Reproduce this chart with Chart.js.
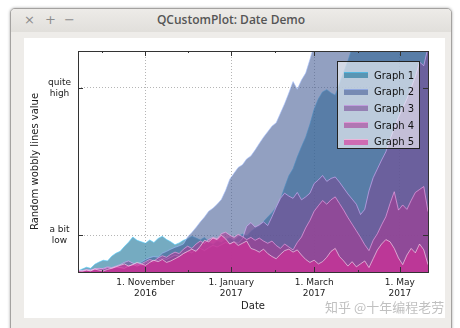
<!DOCTYPE html>
<html>
<head>
<meta charset="utf-8">
<script src="https://cdn.jsdelivr.net/npm/chart.js@4.4.1/dist/chart.umd.min.js"></script>
<style>
  html, body { margin: 0; padding: 0; width: 460px; height: 328px; background: #fff; overflow: hidden; }
  .frame { position: absolute; left: 10px; top: 8px; width: 442px; height: 340px; box-sizing: border-box;
           background: #eeece9; border: 1px solid #a4a2a0; border-radius: 5px 5px 0 0;
           box-shadow: 0 0 3px rgba(0,0,0,0.35); }
  .titlebar { position: absolute; left: 11px; top: 9px; width: 440px; height: 23px;
              background: linear-gradient(#edebe8, #e1dfdb); border-radius: 4px 4px 0 0; }
  .btn { position: absolute; top: 12px; font: 13px "DejaVu Sans", sans-serif; color: #8c8c8c; line-height: 16px; }
  .title { position: absolute; left: 11px; width: 440px; top: 12px; text-align: center;
           font: 600 12px "Open Sans", sans-serif; color: #555; line-height: 16px; }
  .plot { position: absolute; left: 24px; top: 38px; width: 421px; height: 280px; background: #fff; }
  #legend { position: absolute; left: 313px; top: 23px; width: 83px; height: 88px; box-sizing: border-box;
            border: 1px solid #222; background: rgba(255,255,255,0.6); padding: 5px 0 0 6px;
            font: 10px "DejaVu Sans", sans-serif; color: #111; }
  #legend .row { height: 16.6px; display: flex; align-items: center; }
  #legend .sw { width: 24px; height: 5px; margin-right: 6px; }
  .mark { position: absolute; left: 325px; top: 298px; font: 13px "Noto Sans CJK SC", sans-serif;
          line-height: 18px; color: rgba(165,165,165,0.7); white-space: nowrap; }
</style>
</head>
<body>
<div class="frame"></div>
<div class="titlebar"></div>
<span class="btn" style="left:24px">×</span>
<span class="btn" style="left:45px">+</span>
<span class="btn" style="left:64px">−</span>
<div class="title">QCustomPlot: Date Demo</div>
<div class="plot">
  <canvas id="myChart" width="421" height="280"></canvas>
  <div id="legend"></div>
</div>
<div class="mark">知乎 @十年编程老劳</div>
<script>
// days after 14 Sept 2016, one point every 3 days
const days = [];
for (let d = 0; d <= 249; d += 3) days.push(d);

const seriesNames = ['Graph 1', 'Graph 2', 'Graph 3', 'Graph 4', 'Graph 5'];

const graph1 = [0.3, 0.8, 1.3, 1.0, 2.1, 2.7, 3.2, 3.0, 4.3, 5.1,
  5.6, 6.9, 8.1, 9.5, 8.6, 8.2, 7.8, 8.7, 8.0, 9.1,
  9.7, 8.8, 8.2, 7.4, 7.9, 8.6, 9.0, 9.7, 9.2, 8.7,
  9.4, 8.2, 7.5, 8.4, 8.0, 8.8, 9.3, 8.6, 9.6, 10.3,
  9.8, 11.0, 11.9, 12.4, 13.7, 14.9, 16.1, 17.6, 19.7, 23.0,
  26.1, 28.0, 31.2, 34.0, 36.6, 40.1, 44.2, 47.0, 48.9, 49.5,
  48.6, 48.0, 51.1, 54.2, 57.3, 60.8, 63.5, 66.0, 68.7, 71.0,
  73.4, 76.2, 78.8, 81.0, 84.1, 86.9, 89.5, 92.0, 95.2, 98.0,
  100.8, 103.1, 106.4, 109.0];

const graph2 = [0.2, 0.4, 0.3, 0.6, 0.5, 0.8, 0.7, 1.0, 0.9, 1.2,
  1.0, 1.4, 1.5, 1.9, 2.2, 2.7, 3.4, 3.9, 4.2, 4.0,
  5.1, 5.6, 6.2, 6.7, 7.1, 7.6, 9.5, 10.7, 12.1, 13.6,
  14.9, 16.5, 17.3, 18.4, 19.7, 22.1, 25.2, 26.8, 28.4, 29.1,
  30.7, 31.5, 33.1, 34.9, 36.6, 38.1, 39.6, 40.5, 43.1, 45.7,
  48.6, 51.7, 49.6, 52.1, 54.0, 57.7, 61.6, 64.2, 66.0, 68.5,
  70.2, 72.9, 75.0, 77.6, 80.1, 82.4, 85.0, 87.3, 90.1, 92.6,
  95.0, 97.8, 100.2, 103.0, 105.5, 108.4, 111.0, 113.7, 116.5, 119.2,
  122.0, 124.9, 127.5, 130.2];

const graph3 = [0.2, 0.4, 0.6, 0.5, 0.9, 0.7, 1.0, 1.4, 1.2, 1.6,
  2.0, 2.6, 3.0, 2.4, 2.0, 1.8, 2.4, 3.0, 2.6, 3.2,
  3.8, 3.4, 4.0, 4.6, 4.2, 5.0, 5.6, 5.2, 6.0, 6.4,
  5.8, 6.6, 7.2, 6.8, 7.4, 8.0, 7.6, 8.2, 7.8, 9.0,
  12.4, 13.4, 12.2, 12.8, 13.6, 12.6, 15.0, 17.6, 20.0, 21.4,
  20.6, 20.0, 21.6, 19.6, 20.4, 21.4, 24.0, 25.0, 26.2, 24.6,
  25.4, 25.8, 24.4, 22.8, 21.2, 19.8, 18.4, 15.6, 17.0, 22.0,
  25.6, 28.0, 30.4, 32.6, 36.0, 39.0, 42.0, 44.5, 47.0, 50.0,
  53.0, 57.0, 56.0, 61.0];

const graph4 = [0.1, 0.3, 0.6, 0.4, 0.8, 1.0, 0.8, 1.2, 1.0, 1.4,
  1.2, 1.0, 1.6, 2.0, 1.6, 2.2, 2.8, 3.4, 3.0, 3.8,
  4.4, 4.0, 4.8, 5.4, 5.0, 6.2, 7.0, 6.4, 7.6, 8.4,
  7.8, 8.8, 9.4, 9.0, 10.4, 10.8, 10.0, 9.4, 10.2, 9.6,
  8.8, 9.4, 8.6, 9.2, 8.4, 7.8, 8.4, 7.2, 6.4, 7.6,
  6.8, 6.0, 8.0, 9.5, 12.0, 14.0, 16.5, 18.0, 19.4, 18.4,
  19.6, 20.4, 18.6, 16.8, 14.8, 13.0, 11.2, 9.4, 7.4, 5.8,
  8.6, 10.4, 12.8, 15.0, 18.6, 21.8, 16.8, 18.2, 17.0, 19.4,
  21.6, 22.4, 23.2, 16.4];

const graph5 = [0.4, 0.2, 0.5, 0.3, 0.8, 0.5, 0.3, 0.7, 1.0, 1.4,
  1.8, 2.2, 1.6, 2.0, 2.6, 2.2, 1.8, 2.6, 3.2, 2.8,
  3.4, 2.6, 3.0, 3.6, 4.2, 5.0, 5.6, 6.2, 5.6, 7.0,
  8.6, 8.2, 9.2, 8.8, 10.0, 9.0, 7.6, 8.2, 7.2, 7.8,
  8.4, 6.4, 6.0, 5.4, 6.2, 5.0, 4.2, 3.6, 4.8, 5.8,
  6.2, 5.4, 6.0, 4.6, 3.4, 2.6, 3.2, 2.2, 2.8, 4.0,
  5.6, 6.4, 4.2, 3.0, 1.6, 2.8, 1.4, 2.2, 3.0, 1.2,
  3.6, 6.0, 7.6, 8.8, 8.2, 6.4, 3.8, 2.0, 4.6, 6.4,
  5.2, 7.6, 6.0, 2.0];

// x ticks: 1 Nov 2016, 1 Jan, 1 Mar, 1 May 2017 (plus monthly sub ticks)
const majorTickDays = [48, 109, 168, 229];
const majorTickLabels = [['1. November', '2016'], ['1. January', '2017'], ['1. March', '2017'], ['1. May', '2017']];
const minorTickDays = [17, 78, 140, 199];

const yTickValues = [10, 50];
const yTickLabels = [['a bit', 'low'], ['quite', 'high']];

const fillColors = ['rgba(20,112,150,0.59)', 'rgba(70,94,150,0.59)', 'rgba(120,77,150,0.59)',
  'rgba(170,59,150,0.59)', 'rgba(220,42,150,0.59)'];
const lineColors = ['rgba(79,204,255,0.59)', 'rgba(164,191,255,0.59)', 'rgba(222,176,255,0.59)',
  'rgba(255,173,240,0.59)', 'rgba(255,234,247,0.59)'];

const allSeries = [graph1, graph2, graph3, graph4, graph5];

Chart.defaults.font.family = '"DejaVu Sans", sans-serif';
Chart.defaults.color = '#222';

// inward ticks and the full box around the plot
const axisBox = {
  id: 'axisBox',
  afterDatasetsDraw(chart) {
    const { ctx, chartArea: a, scales: { x, y } } = chart;
    ctx.save();
    ctx.strokeStyle = '#333';
    ctx.lineWidth = 1;
    ctx.beginPath();
    function vTick(d, len) {
      const px = Math.round(x.getPixelForValue(d)) + 0.5;
      ctx.moveTo(px, a.bottom); ctx.lineTo(px, a.bottom - len);
      ctx.moveTo(px, a.top); ctx.lineTo(px, a.top + len);
    }
    majorTickDays.forEach(d => vTick(d, 5));
    minorTickDays.forEach(d => vTick(d, 2));
    yTickValues.forEach(v => {
      const py = Math.round(y.getPixelForValue(v)) + 0.5;
      ctx.moveTo(a.left, py); ctx.lineTo(a.left + 5, py);
      ctx.moveTo(a.right, py); ctx.lineTo(a.right - 5, py);
    });
    ctx.stroke();
    ctx.strokeRect(Math.round(a.left) + 0.5, Math.round(a.top) + 0.5, Math.round(a.width), Math.round(a.height));
    ctx.restore();
  }
};

const chart = new Chart(document.getElementById('myChart'), {
  type: 'line',
  data: {
    datasets: allSeries.map((s, i) => ({
      label: seriesNames[i],
      data: s.map((v, j) => ({ x: days[j], y: v })),
      backgroundColor: fillColors[i],
      borderColor: lineColors[i],
      borderWidth: 1,
      pointRadius: 0,
      tension: 0,
      fill: 'origin',
      order: allSeries.length - i
    }))
  },
  options: {
    responsive: false,
    animation: false,
    layout: { padding: { top: 13, right: 17, left: 0, bottom: 0 } },
    plugins: {
      legend: { display: false },
      tooltip: { enabled: false }
    },
    scales: {
      x: {
        type: 'linear',
        min: 0,
        max: 249,
        afterFit: s => { s.height = 46; s.paddingLeft = 0; s.paddingRight = 0; },
        afterBuildTicks: s => { s.ticks = majorTickDays.map(v => ({ value: v })); },
        ticks: {
          autoSkip: false,
          maxRotation: 0,
          padding: 5,
          font: { size: 9 },
          color: '#222',
          callback: v => majorTickLabels[majorTickDays.indexOf(v)]
        },
        grid: { color: 'rgba(150,150,150,0.7)', drawTicks: false },
        border: { display: false, dash: [1, 2] },
        title: { display: true, text: 'Date', font: { size: 10 }, color: '#222', padding: { top: 6, bottom: 6 } }
      },
      y: {
        min: 0,
        max: 60,
        afterFit: s => { s.width = 54; s.paddingTop = 0; s.paddingBottom = 0; },
        afterBuildTicks: s => { s.ticks = yTickValues.map(v => ({ value: v })); },
        ticks: {
          padding: 7,
          crossAlign: 'center',
          font: { size: 9 },
          color: '#222',
          callback: v => yTickLabels[yTickValues.indexOf(v)]
        },
        grid: { color: 'rgba(150,150,150,0.7)', drawTicks: false },
        border: { display: false, dash: [1, 2] },
        title: { display: true, text: 'Random wobbly lines value', font: { size: 10 }, color: '#222', padding: { top: 5, bottom: 0 } }
      }
    }
  },
  plugins: [axisBox]
});

// legend inside the plot, built from the datasets
const legendBox = document.getElementById('legend');
chart.data.datasets.forEach(ds => {
  const row = document.createElement('div');
  row.className = 'row';
  const sw = document.createElement('span');
  sw.className = 'sw';
  sw.style.background = ds.backgroundColor;
  sw.style.borderTop = '1px solid ' + ds.borderColor;
  const txt = document.createElement('span');
  txt.textContent = ds.label;
  row.appendChild(sw);
  row.appendChild(txt);
  legendBox.appendChild(row);
});
</script>
</body>
</html>
